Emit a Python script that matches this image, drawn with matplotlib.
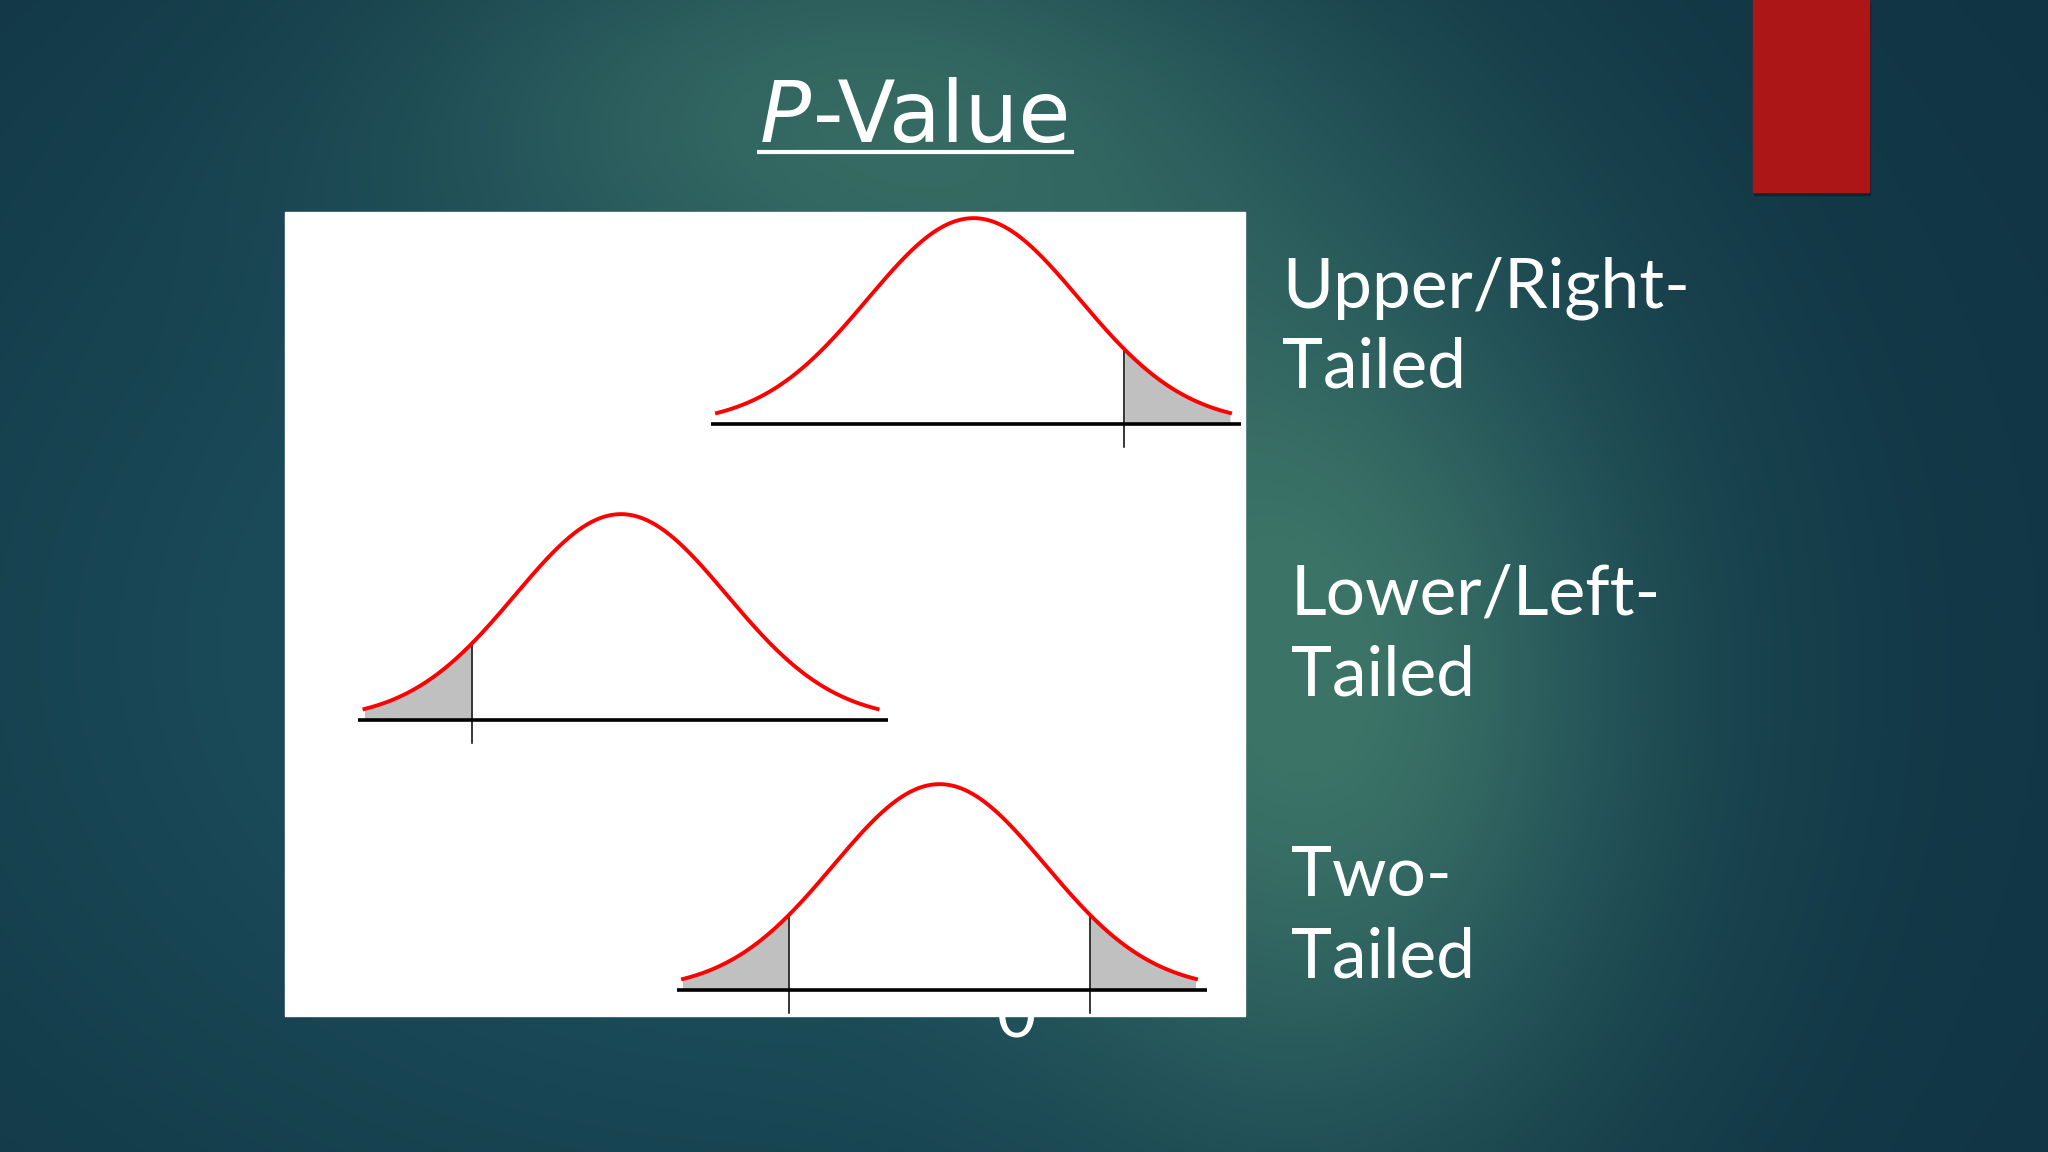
import numpy as np
import matplotlib
matplotlib.use("Agg")
import matplotlib.pyplot as plt
from matplotlib.patches import Rectangle

W, H = 2048, 1152

# slide content
title_italic = "P"
title_rest = "-Value"
tail_types = ["right", "left", "two"]
tail_labels = [("Upper/Right-", "Tailed"), ("Lower/Left-", "Tailed"), ("Two-", "Tailed")]
z_crit = [1.42, -1.41, 1.42]
z_curve_end = 2.42          # red curve stops here on both sides
z_axis_left = -2.48         # black axis line extent
z_axis_right = 2.52
tick_depth = 0.044          # how far the critical line drops below the axis
centre_label = "0"

FONT = "Lato"
TITLE_FONT = "DejaVu Sans"

fig = plt.figure(figsize=(W / 100, H / 100), dpi=100)

# background: dark blue-teal with a lighter green-teal glow
bg = fig.add_axes([0, 0, 1, 1], zorder=0)
yy, xx = np.mgrid[0:H, 0:W]
dark = np.array([0.063, 0.200, 0.260])
mid = np.array([0.118, 0.322, 0.375])
light = np.array([0.235, 0.455, 0.405])


def glow(cx, cy, rx, ry):
    return np.exp(-(((xx - cx) / rx) ** 2 + ((yy - cy) / ry) ** 2))


m = np.clip(glow(750, 650, 900, 650), 0, 1)[..., None]
l = np.clip(0.95 * glow(1320, 700, 300, 430) + 0.75 * glow(850, 110, 420, 230)
            + 0.3 * glow(1050, 480, 300, 300), 0, 1)[..., None]
img = dark + (mid - dark) * m
img = img + (light - img) * l
bg.imshow(img, extent=[0, W, H, 0], aspect="auto", zorder=0)
bg.set_xlim(0, W)
bg.set_ylim(H, 0)
bg.axis("off")

# red tab top right with soft shadow
bg.add_patch(Rectangle((1754, 3), 116, 192, color="#0b1f28", alpha=0.6, zorder=1))
bg.add_patch(Rectangle((1753, 0), 116, 192, color="#ad1616", zorder=2))

# the "0" peeking out under the picture
bg.text(1017, 1037, centre_label, fontsize=49, color="white", family=FONT,
        ha="center", va="baseline", zorder=1)

# white picture area
bg.add_patch(Rectangle((285, 212), 960, 804, color="white", zorder=2))

# title with underline
renderer = fig.canvas.get_renderer()
tp = bg.text(760, 142, title_italic, fontsize=61, color="white", family=TITLE_FONT,
             style="italic", ha="left", va="baseline", zorder=3)
ext = tp.get_window_extent(renderer)
tr = bg.text(ext.x1 + 2, 142, title_rest, fontsize=61, color="white", family=TITLE_FONT,
             ha="left", va="baseline", zorder=3)
ext2 = tr.get_window_extent(renderer)
bg.plot([757, ext2.x1 + 2], [152, 152], color="white", lw=3.0,
        solid_capstyle="butt", zorder=3)

# side labels
label_x = [1282, 1291, 1291]
label_base = [(307, 388), (615, 696), (896, 977)]
for lines, lx, bases in zip(tail_labels, label_x, label_base):
    for line, by in zip(lines, bases):
        bg.text(lx, by, line, fontsize=50, color="white", family=FONT,
                ha="left", va="baseline", zorder=3)


def pdf(z):
    return np.exp(-z ** 2 / 2) / np.sqrt(2 * np.pi)


# panels: centre x and axis y in pixels
panel_cx = [973.5, 621.0, 939.5]
panel_base = [424.0, 720.0, 990.0]
sx, sy = 106.0, 516.0
x0, x1 = -2.7, 2.7
y0, y1 = -0.07, 0.42

for cx, by, tail, zc in zip(panel_cx, panel_base, tail_types, z_crit):
    left = cx + x0 * sx
    width = (x1 - x0) * sx
    top = by - y1 * sy
    height = (y1 - y0) * sy
    ax = fig.add_axes([left / W, 1 - (top + height) / H, width / W, height / H], zorder=3)
    ax.set_xlim(x0, x1)
    ax.set_ylim(y0, y1)
    ax.axis("off")
    ax.patch.set_alpha(0)

    z = np.linspace(-z_curve_end, z_curve_end, 600)
    f = pdf(z)
    if tail == "right":
        ax.fill_between(z, 0, f, where=z >= zc, color="#c0c0c0", lw=0)
        crits = [zc]
    elif tail == "left":
        ax.fill_between(z, 0, f, where=z <= zc, color="#c0c0c0", lw=0)
        crits = [zc]
    else:
        ax.fill_between(z, 0, f, where=np.abs(z) >= abs(zc), color="#c0c0c0", lw=0)
        crits = [-abs(zc), abs(zc)]

    ax.plot([z_axis_left, z_axis_right], [0, 0], color="black", lw=2.6,
            solid_capstyle="butt")
    for c in crits:
        ax.plot([c, c], [-tick_depth, pdf(c)], color="black", lw=1.1)
    ax.plot(z, f, color="#ff0000", lw=2.8)

fig.savefig("out.png", dpi=100)
